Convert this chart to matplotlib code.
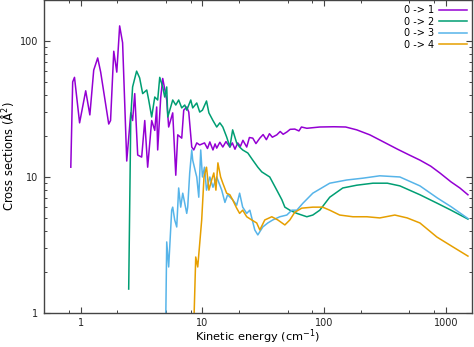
import matplotlib
matplotlib.use("Agg")
import matplotlib.pyplot as plt
from matplotlib.ticker import LogLocator, NullFormatter

# rotational transitions 0 -> j : kinetic energy (cm-1) vs cross section (A^2)
x01 = [0.83, 0.86, 0.89, 0.98, 1.10, 1.19, 1.28, 1.38, 1.46, 1.70, 1.76, 1.87,
       1.98, 2.09, 2.21, 2.39, 2.58, 2.67, 2.78, 2.94, 3.17, 3.36, 3.55, 3.83,
       4.06, 4.21, 4.29, 4.54, 4.72, 5.09, 5.28, 5.70, 6.04, 6.27, 6.76, 7.02,
       7.43, 7.72, 8.17, 8.49, 8.98, 9.50, 10.4, 11.0, 11.5, 12.2, 12.7, 13.1,
       13.9, 14.7, 15.6, 16.8, 17.6, 18.5, 19.5, 20.5, 21.5, 23.1, 24.3, 25.9,
       27.5, 29.6, 31.5, 33.5, 35.5, 37.5, 40.8, 43.5, 46.0, 49.3, 52.5, 57.3,
       62.0, 65.0, 72, 92, 120, 150, 185, 237, 286, 400, 500, 611, 750, 891,
       1100, 1300, 1514]
y01 = [11.8, 50, 54, 25, 43, 28.6, 61, 75, 59, 24.5, 26, 84,
       59, 129, 97, 13.1, 29.6, 26, 41, 14.5, 14, 26, 11.8, 26,
       22, 32.7, 15.8, 38, 53, 36.8, 23.3, 29.6, 10.3, 20.4, 19.3, 31,
       32.7, 30, 16.6, 15.8, 17.8, 17.2, 17.8, 16.2, 18.1, 15.8, 17.5, 16.3,
       18.0, 16.6, 18.2, 16.6, 17.8, 16.0, 17.8, 16.8, 18.6, 16.6, 19.5, 19.3,
       17.6, 19.3, 20.5, 18.8, 20.8, 19.6, 20.4, 21.6, 20.6, 21.4, 22.4, 22.5,
       21.8, 23.3, 22.8, 23.3, 23.4, 23.3, 22.2, 20.4, 18.7, 16.0, 14.5, 13.3, 12.0, 10.7,
       9.2, 8.3, 7.4]

x02 = [2.48, 2.58, 2.67, 2.88, 3.05, 3.23, 3.49, 3.62, 3.83, 4.06, 4.29, 4.46,
       4.72, 4.90, 5.09, 5.19, 5.49, 5.70, 6.04, 6.38, 6.76, 7.16, 7.43, 8.02,
       8.32, 8.98, 9.50, 10.0, 10.8, 11.3, 12.2, 13.1, 13.9, 14.7, 15.8, 16.8,
       17.7, 19.1, 20.2, 21.4, 23.6, 25.9, 28.5, 30.7, 35.7, 40.8, 44.9, 47.5,
       52.2, 59.6, 72, 80.6, 92, 111, 142, 185, 251, 330, 418, 611, 850, 1100,
       1514]
y02 = [1.5, 27.6, 45.9, 60, 53.5, 41, 43.6, 36.8, 27.6, 38.7, 36.8, 54,
       45.9, 38.7, 45.9, 27.6, 32.7, 36.8, 33.8, 36.8, 32.2, 33.8, 31, 36.8,
       32.2, 35, 30, 31, 36.2, 29.6, 26, 23.3, 25, 23.3, 19.7, 16.6,
       22.2, 17.8, 16.6, 15.8, 15, 13.3, 11.8, 10.9, 10, 8.0, 6.8, 6.0,
       5.7, 5.4, 5.1, 5.25, 5.7, 7.1, 8.3, 8.7, 9.0, 9.0, 8.6, 7.4, 6.4, 5.7,
       4.9]

x03 = [4.99, 5.09, 5.28, 5.59, 5.70, 5.92, 6.15, 6.38, 6.63, 6.89, 7.16, 7.43,
       7.57, 7.86, 8.17, 8.32, 8.81, 8.98, 9.33, 9.68, 10.0, 10.4, 10.8, 11.5,
       12.2, 13.1, 14.4, 15.3, 16.1, 17.7, 19.1, 20.2, 21.4, 23.1, 24.5, 26.9,
       28.5, 31.3, 34.4, 37.8, 43.2, 49.3, 54.2, 59.6, 66.7, 80.6, 111, 153,
       208, 286, 418, 611, 850, 1100, 1514]
y03 = [0.8, 3.33, 2.18, 5.7, 6.0, 4.83, 4.29, 8.3, 6.0, 7.6, 6.4, 5.4,
       6.0, 10.7, 15.8, 13.3, 10.7, 10, 7.1, 15.8, 10, 11.8, 8.0, 10,
       8.4, 10, 8.0, 6.5, 7.4, 6.8, 6.2, 7.6, 6.0, 5.4, 5.7, 4.08,
       3.75, 4.29, 4.59, 4.83, 5.1, 5.25, 5.7, 5.7, 6.4, 7.6, 9.0, 9.5,
       9.8, 10.2, 10.0, 8.6, 7.0, 6.05, 4.95]

x04 = [8.49, 8.81, 9.15, 9.86, 10.3, 10.8, 11.3, 11.9, 12.4, 12.9, 13.4, 14.1,
       14.7, 15.8, 16.8, 17.7, 19.1, 20.2, 21.4, 23.1, 25.4, 27.9, 29.6, 32.5,
       37.1, 41.6, 47.5, 52.2, 57.3, 65.4, 80.6, 97, 111, 134, 172, 224,
       286, 380, 480, 611, 841, 1140, 1514]
y04 = [0.8, 2.58, 2.18, 4.83, 10, 11.8, 8.0, 9.5, 10.7, 8.0, 12.7, 10,
       9.0, 7.6, 7.4, 6.8, 5.9, 5.4, 5.7, 5.1, 4.83, 4.59, 4.08, 4.83,
       5.1, 4.83, 4.44, 4.83, 5.5, 5.9, 6.0, 6.0, 5.7, 5.25, 5.1, 5.1,
       5.0, 5.25, 5.0, 4.59, 3.62, 3.06, 2.62]

labels = ["0 -> 1", "0 -> 2", "0 -> 3", "0 -> 4"]
colors = ["#9400d3", "#009e73", "#56b4e9", "#e69f00"]

xticks = [1, 10, 100, 1000]
xtick_labels = ["1", "10", "100", "1000"]
yticks = [1, 10, 100]
ytick_labels = ["1", "10", "100"]


def main():
    fig = plt.figure(figsize=(4.74, 3.47), dpi=100)
    ax = fig.add_axes([44 / 474, 34 / 347, 428 / 474, 313 / 347])

    series = [(x01, y01), (x02, y02), (x03, y03), (x04, y04)]
    for (x, y), lab, col in zip(series, labels, colors):
        ax.plot(x, y, color=col, lw=1.1, label=lab)

    ax.set_xscale("log")
    ax.set_yscale("log")
    ax.set_xlim(0.5, 1635)
    ax.set_ylim(1, 200)

    ax.set_xticks(xticks, xtick_labels)
    ax.set_yticks(yticks, ytick_labels)
    ax.xaxis.set_minor_locator(LogLocator(base=10, subs=[2, 5, 8]))
    ax.yaxis.set_minor_locator(LogLocator(base=10, subs=range(2, 10)))
    ax.xaxis.set_minor_formatter(NullFormatter())
    ax.yaxis.set_minor_formatter(NullFormatter())

    edge = "#444444"
    for sp in ax.spines.values():
        sp.set_color(edge)
        sp.set_linewidth(1.0)
    ax.tick_params(which="both", direction="in", top=True, right=True,
                   color=edge, labelsize=7, labelcolor="#222222")
    ax.tick_params(which="major", length=4, width=0.8, pad=4)
    ax.tick_params(which="minor", length=2.2, width=0.7)
    ax.tick_params(axis="x", which="major", pad=3.5)

    ax.set_xlabel("Kinetic energy (cm$^{-1}$)", fontsize=8.2, labelpad=0)
    ax.set_ylabel("Cross sections (Å$^2$)", fontsize=8.3, labelpad=3)

    ax.legend(loc="upper right", frameon=False, markerfirst=False, fontsize=7,
              handlelength=2.8, handletextpad=0.5, labelspacing=0.15,
              borderpad=0.1, borderaxespad=0.45)

    fig.savefig("out.png", dpi=100)


if __name__ == "__main__":
    main()
